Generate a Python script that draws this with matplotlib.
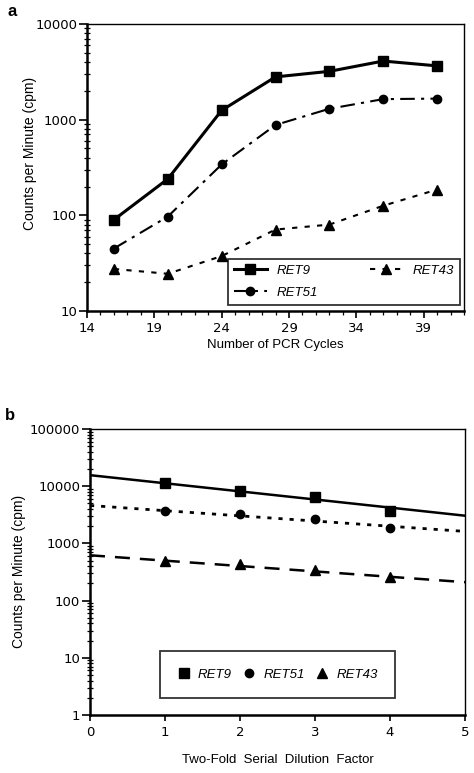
import numpy as np
import matplotlib.pyplot as plt
from matplotlib.ticker import LogLocator, NullFormatter, MultipleLocator

plt.rcParams['font.family'] = ['Liberation Sans', 'DejaVu Sans']

# PANEL A DATA
cycles = [16, 20, 24, 28, 32, 36, 40]
ret9_a = [90, 240, 1250, 2800, 3200, 4100, 3650]
ret51_a = [45, 97, 340, 880, 1300, 1640, 1660]
ret43_a = [27.5, 24.5, 37.5, 71, 80, 126, 186]

# PANEL B DATA
dilution = [1, 2, 3, 4]
ret9_b = [11400, 8300, 6500, 3650]
ret51_b = [3650, 3300, 2700, 1880]
ret43_b = [485, 435, 340, 260]
# fitted lines read at x=0 and x=5
fit_x = [0, 5]
ret9_fit = [15600, 3050]
ret51_fit = [4600, 1620]
ret43_fit = [620, 210]

fig = plt.figure(figsize=(4.74, 7.73), dpi=100)
W, H = 474, 773
tickfont = {'family': 'DejaVu Sans', 'size': 9.5}

def style_log_y(ax):
    ax.set_yscale('log')
    ax.yaxis.set_major_formatter(plt.FuncFormatter(lambda v, p: '%d' % v))
    ax.yaxis.set_minor_locator(LogLocator(base=10, subs=np.arange(2, 10)))
    ax.yaxis.set_minor_formatter(NullFormatter())
    ax.tick_params(axis='y', which='major', direction='out', length=5.5, width=1.2, pad=1.5)
    ax.tick_params(axis='y', which='minor', direction='inout', length=5, width=0.9)
    ax.spines['left'].set_linewidth(1.8)
    ax.spines['bottom'].set_linewidth(1.8)
    ax.spines['top'].set_linewidth(1.0)
    ax.spines['right'].set_linewidth(1.0)

def tick_fonts(ax):
    for t in ax.get_xticklabels() + ax.get_yticklabels():
        t.set_fontfamily(tickfont['family'])
        t.set_fontsize(tickfont['size'])

# PANEL A
ax1 = fig.add_axes([87 / W, 1 - 311 / H, (464 - 87) / W, (311 - 24) / H])
ax1.plot(cycles, ret9_a, '-', color='black', lw=2.2, marker='s', ms=6.8, label='RET9')
ax1.plot(cycles, ret51_a, '-.', color='black', lw=1.5, marker='o', ms=6, label='RET51',
         dashes=(7, 3, 1.5, 3))
ax1.plot(cycles, ret43_a, '--', color='black', lw=1.5, marker='^', ms=6.5, label='RET43',
         dashes=(2.5, 3.5))
style_log_y(ax1)
ax1.set_ylim(10, 10000)
ax1.set_xlim(14, 42)
ax1.set_xticks([14, 19, 24, 29, 34, 39])
ax1.xaxis.set_minor_locator(MultipleLocator(1))
ax1.tick_params(axis='x', which='major', direction='out', length=5, width=1.2, pad=3)
ax1.tick_params(axis='x', which='minor', direction='out', length=3, width=0.9)
tick_fonts(ax1)
ax1.set_xlabel('Number of PCR Cycles', fontsize=9.5, labelpad=3)
ax1.set_ylabel('Counts per Minute (cpm)', fontsize=10)
ax1.yaxis.set_label_coords(-0.133, 0.55)
h, l = ax1.get_legend_handles_labels()
leg1 = ax1.legend(h, l, ncol=2, loc='lower right',
                  bbox_to_anchor=(0.989, 0.021), borderaxespad=0, fancybox=False,
                  edgecolor='black', prop={'style': 'italic', 'size': 9.5}, handlelength=2.5,
                  handletextpad=0.75, columnspacing=3.9, borderpad=0.45, labelspacing=0.75)
leg1.get_frame().set_linewidth(1.3)
fig.text(8 / W, 1 - 12 / H, 'a', fontsize=12, fontweight='bold', va='center')

# PANEL B
ax2 = fig.add_axes([90 / W, 1 - 715 / H, (465 - 90) / W, (715 - 429) / H])
ax2.plot(fit_x, ret9_fit, '-', color='black', lw=1.8)
ax2.plot(fit_x, ret51_fit, ':', color='black', lw=2.0, dashes=(1.5, 2.5))
ax2.plot(fit_x, ret43_fit, '--', color='black', lw=1.8, dashes=(6, 4))
ax2.plot(dilution, ret9_b, 's', color='black', ms=6.8, label='RET9')
ax2.plot(dilution, ret51_b, 'o', color='black', ms=6, label='RET51')
ax2.plot(dilution, ret43_b, '^', color='black', ms=6.5, label='RET43')
style_log_y(ax2)
ax2.set_ylim(1, 100000)
ax2.set_yticks([1, 10, 100, 1000, 10000, 100000])
ax2.set_xlim(0, 5)
ax2.set_xticks([0, 1, 2, 3, 4, 5])
ax2.tick_params(axis='x', which='major', direction='out', length=4, width=1.2, pad=4)
tick_fonts(ax2)
ax2.set_xlabel('Two-Fold  Serial  Dilution  Factor', fontsize=9.5, labelpad=11)
ax2.set_ylabel('Counts per Minute (cpm)', fontsize=10)
ax2.yaxis.set_label_coords(-0.171, 0.503)
leg2 = ax2.legend(ncol=3, loc='lower center', bbox_to_anchor=(0.5, 0.06), borderaxespad=0,
                  fancybox=False, edgecolor='black', prop={'style': 'italic', 'size': 9.5},
                  handlelength=1.0, handletextpad=0.6, columnspacing=0.8, borderpad=1.3)
leg2.get_frame().set_linewidth(1.3)
fig.text(5 / W, 1 - 415 / H, 'b', fontsize=12, fontweight='bold', va='center')

fig.savefig('out.png', dpi=100)
